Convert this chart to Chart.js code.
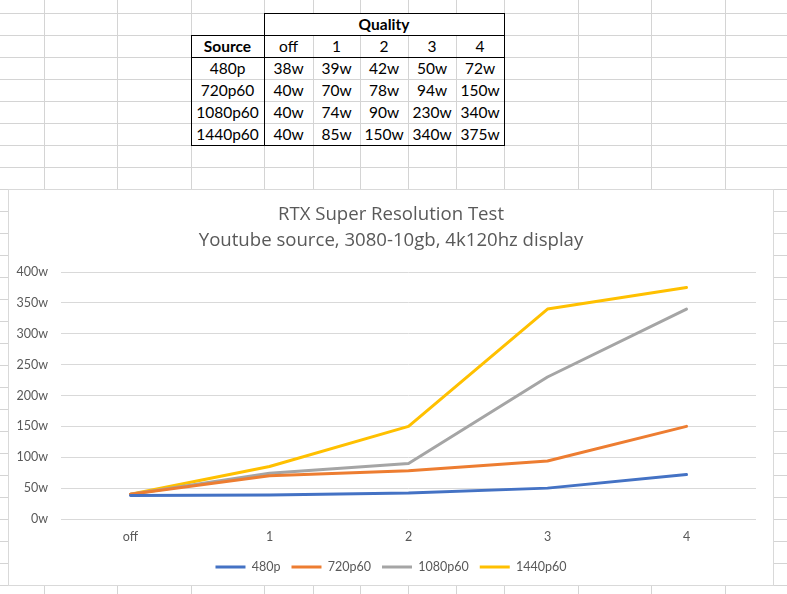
<!DOCTYPE html>
<html>
<head>
<meta charset="utf-8">
<script src="https://cdn.jsdelivr.net/npm/chart.js@4.4.1/dist/chart.umd.min.js"></script>
<style>
  html, body { margin: 0; padding: 0; background: #fff; }
  body { width: 787px; height: 594px; position: relative; overflow: hidden; font-family: Lato, sans-serif; }
  .gl { position: absolute; background: #d4d4d4; }
  .bl { position: absolute; background: #000; }
  .cell { position: absolute; text-align: center; line-height: 22px; height: 22px; font-size: 15.5px; color: #000; white-space: nowrap; }
  .bold { font-weight: bold; }
  #chartBox { position: absolute; left: 8px; top: 189px; width: 766px; height: 397px; box-sizing: border-box; border: 1px solid #d9d9d9; background: #fff; }
  #chartBox canvas { display: block; }
</style>
</head>
<body>
<div id="sheet"></div>
<div id="chartBox"><canvas id="c" width="764" height="395"></canvas></div>
<script>
// ---- Data ----
const categories = ['off', '1', '2', '3', '4'];
const seriesNames = ['480p', '720p60', '1080p60', '1440p60'];
const s480p    = [38, 39, 42, 50, 72];
const s720p60  = [40, 70, 78, 94, 150];
const s1080p60 = [40, 74, 90, 230, 340];
const s1440p60 = [40, 85, 150, 340, 375];
const seriesValues = [s480p, s720p60, s1080p60, s1440p60];
const seriesColors = ['#4472C4', '#ED7D31', '#A5A5A5', '#FFC000'];
const titleLines = ['RTX Super Resolution Test', 'Youtube source, 3080-10gb, 4k120hz display'];
const tableHeader = 'Quality';
const sourceHeader = 'Source';

// ---- Spreadsheet background (layout only) ----
const sheet = document.getElementById('sheet');
const colEdges = [43.5, 117, 190.5, 264, 312.5, 360, 408, 456, 503.5, 577.5, 651, 724.5];
const rowH = 22, rowStart = 13.3;
function add(cls, x, y, w, h, text, extra) {
  const d = document.createElement('div');
  d.className = cls;
  d.style.left = x + 'px'; d.style.top = y + 'px';
  d.style.width = w + 'px'; d.style.height = h + 'px';
  if (extra) Object.assign(d.style, extra);
  if (text !== undefined) d.textContent = text;
  sheet.appendChild(d);
  return d;
}
colEdges.forEach(x => add('gl', Math.round(x), 0, 1, 594));
for (let y = rowStart; y < 594; y += rowH) add('gl', 0, Math.round(y), 787, 1);

// table geometry
const tX = [190.5, 264, 312.5, 360, 408, 456, 503.5];
const tTop = rowStart;
const R = i => Math.round(tTop + i * rowH);
add('cell', Math.round(tX[1]) + 1, R(0) + 1, Math.round(tX[6]) - Math.round(tX[1]) - 1, rowH - 1, undefined, {background: '#fff'});
add('bl', Math.round(tX[1]), R(0), Math.round(tX[6]) - Math.round(tX[1]) + 1, 1);
[1, 2, 6].forEach(r => add('bl', Math.round(tX[0]), R(r), Math.round(tX[6]) - Math.round(tX[0]) + 1, 1));
add('bl', Math.round(tX[0]), R(1), 1, R(6) - R(1));
add('bl', Math.round(tX[1]), R(0), 1, R(6) - R(0));
add('bl', Math.round(tX[6]), R(0), 1, R(6) - R(0));
function cellText(c0, c1, r, text, bold) {
  const x0 = Math.round(tX[c0]), x1 = Math.round(tX[c1]);
  add('cell' + (bold ? ' bold' : ''), x0, R(r), x1 - x0, rowH, text, {lineHeight: (rowH + 1) + 'px'});
}
cellText(1, 6, 0, tableHeader, true);
cellText(0, 1, 1, sourceHeader, true);
categories.forEach((c, i) => cellText(i + 1, i + 2, 1, c, false));
seriesNames.forEach((n, r) => {
  cellText(0, 1, r + 2, n, false);
  seriesValues[r].forEach((v, i) => cellText(i + 1, i + 2, r + 2, v + 'w', false));
});

// ---- Chart ----
const FONT = 'Lato, sans-serif';
const TFONT = '"Open Sans", sans-serif';
const TXT = '#595959';
const datasets = seriesNames.map((n, i) => ({
  label: n,
  data: seriesValues[i],
  borderColor: seriesColors[i],
  backgroundColor: seriesColors[i],
  borderWidth: 3,
  pointRadius: 0,
  pointHoverRadius: 0,
  tension: 0,
  fill: false,
  borderCapStyle: 'round',
  borderJoinStyle: 'round'
}));

new Chart(document.getElementById('c'), {
  type: 'line',
  data: { labels: categories, datasets },
  options: {
    responsive: false,
    animation: false,
    events: [],
    layout: { padding: { left: 0, right: 0, top: 0, bottom: 1.75 } },
    plugins: {
      title: {
        display: true,
        text: titleLines,
        color: TXT,
        font: { family: TFONT, size: 18.6, weight: 'normal', lineHeight: 26 / 18.6 },
        padding: { top: 12, bottom: 18 }
      },
      legend: {
        position: 'bottom',
        labels: {
          color: TXT,
          font: { family: FONT, size: 12.5 },
          boxWidth: 30,
          boxHeight: 3,
          padding: 11,
          generateLabels(chart) {
            const items = Chart.defaults.plugins.legend.labels.generateLabels(chart);
            items.forEach(it => { it.lineWidth = 0; it.strokeStyle = 'rgba(0,0,0,0)'; it.fillStyle = seriesColors[it.datasetIndex]; });
            return items;
          }
        }
      },
      tooltip: { enabled: false }
    },
    scales: {
      x: {
        offset: true,
        grid: { display: false, drawTicks: false },
        border: { display: false },
        ticks: { color: TXT, font: { family: FONT, size: 12.5 }, padding: 10, maxRotation: 0 },
        afterFit(s) { s.height = 30.75; }
      },
      y: {
        min: 0, max: 400,
        ticks: { stepSize: 50, color: TXT, font: { family: FONT, size: 12.5 }, padding: 13, callback: v => v + 'w' },
        grid: { color: '#d9d9d9', lineWidth: 1, drawTicks: false },
        border: { display: false },
        afterFit(s) { s.width = 52; }
      },
      yRight: {
        position: 'right',
        display: true,
        grid: { display: false, drawTicks: false },
        border: { display: false },
        ticks: { display: false },
        afterFit(s) { s.width = 17; }
      }
    }
  }
});
</script>
</body>
</html>
